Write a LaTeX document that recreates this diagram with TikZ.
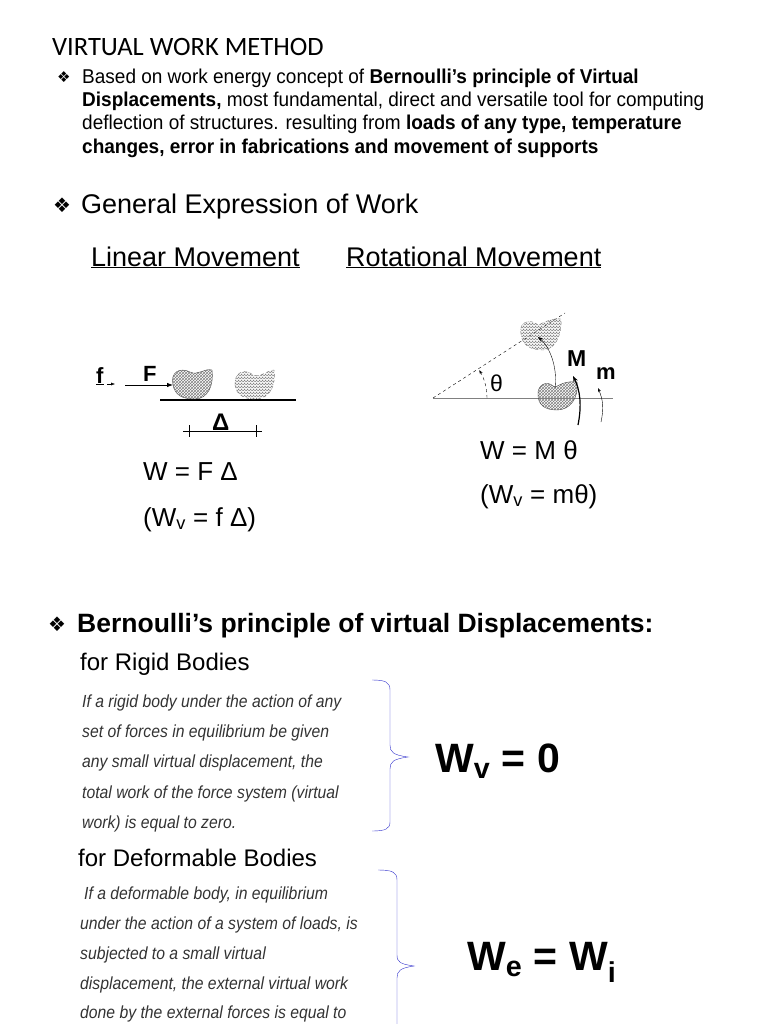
\documentclass[tikz,border=0pt]{standalone}
\usepackage{fontspec}
\setmainfont{Liberation Sans}
\newfontfamily\narrow[FakeStretch=0.95]{Liberation Sans}
\newfontfamily\narrowi[FakeStretch=0.9]{Liberation Sans}
\newfontfamily\calib{Carlito}
\newfontfamily\dv{DejaVu Sans}
\usetikzlibrary{patterns,arrows.meta}
\newcommand{\dia}{{\dv ❖}}
\begin{document}
\begin{tikzpicture}[x=1pt,y=-1pt,
  lbl/.style={anchor=base west,inner sep=0pt},
  bodyl/.style={lbl,font=\narrow\fontsize{20}{20}\selectfont},
  ital/.style={lbl,font=\narrowi\itshape\fontsize{17.5}{17.5}\selectfont,text=black!80},
  blob/.style={pattern=crosshatch,pattern color=gray,draw=black!70,thin},
  dblob/.style={blob,dashed,draw=gray},
  brc/.style={draw=blue!60!gray,thin}]
\useasboundingbox (0,0) rectangle (768,1024);
\node[lbl,font=\calib\fontsize{26.5}{26.5}\selectfont] (title) at (52,56) {VIRTUAL WORK METHOD};
\node[lbl,font=\fontsize{15}{15}\selectfont] (d1) at (57,83) {\dia};
\node[bodyl] (l1) at (82,84) {Based on work energy concept of \textbf{Bernoulli’s principle of Virtual}};
\node[bodyl] (l2) at (82,107) {\textbf{Displacements,} most fundamental, direct and versatile tool for computing};
\node[bodyl] (l3) at (82,130) {deflection of structures. resulting from \textbf{loads of any type, temperature}};
\node[bodyl] (l4) at (82,154) {\textbf{changes, error in fabrications and movement of supports}};
\node[lbl,font=\fontsize{20}{20}\selectfont] (gd) at (53,213) {\dia};
\node[lbl,font=\fontsize{27}{27}\selectfont] (gen) at (81,214) {General Expression of Work};
\node[lbl,font=\fontsize{27}{27}\selectfont] (lin) at (91,266) {\underline{Linear Movement}};
\node[lbl,font=\fontsize{27}{27}\selectfont] (rot) at (346,266) {\underline{Rotational Movement}};
% linear figure
\draw[line width=2.5pt] (160,400) -- (296,400);
\node[lbl,font=\bfseries\fontsize{22}{22}\selectfont] (f) at (96,383) {\underline{f}};
\coordinate (fa) at (107,384); \coordinate (fb) at (115,384);
\draw[-{Latex[length=4pt]}] (fa) -- (fb);
\node[lbl,font=\bfseries\fontsize{22}{22}\selectfont] (F) at (143,381) {F};
\coordinate (Fa) at (125,385); \coordinate (Fb) at (173,385);
\draw[thick,-{Latex[length=6pt]}] (Fa) -- (Fb);
\draw[blob] (173,385) .. controls (170,372) and (180,367) .. (190,372) .. controls (198,376) and (204,368) .. (212,370) .. controls (214,385) and (208,399) .. (195,399) .. controls (182,399) and (175,395) .. (173,385) -- cycle;
\draw[dblob] (235,385) .. controls (234,372) and (245,368) .. (253,375) .. controls (260,378) and (268,370) .. (274,370) .. controls (276,386) and (270,399) .. (255,399) .. controls (243,399) and (236,394) .. (235,385) -- cycle;
\node[lbl,font=\bfseries\fontsize{24}{24}\selectfont] (Dl) at (212,430) {Δ};
\coordinate (da) at (183,431); \coordinate (db) at (262,431);
\draw (da) -- (db); \draw (189,425) -- (189,437); \draw (256,425) -- (256,437);
\node[lbl,font=\fontsize{26}{26}\selectfont] (w1) at (143,480) {W = F Δ};
\node[lbl,font=\fontsize{26}{26}\selectfont] (w2) at (143,526) {(W\textsubscript{v} = f Δ)};
% rotational figure
\coordinate (O) at (433,398);
\draw[gray] (O) -- (613,398);
\draw[dashed] (O) -- (565,313);
\draw[dashed,-{Stealth[length=4pt]}] (487,398) arc[start angle=0,end angle=-31,radius=54];
\node[lbl,font=\fontsize{23}{23}\selectfont] (th) at (490,391) {θ};
\draw[dblob] (521,334) .. controls (518,322) and (530,318) .. (538,325) .. controls (545,322) and (552,318) .. (561,319) .. controls (562,335) and (555,350) .. (543,350) .. controls (530,350) and (522,345) .. (521,334) -- cycle;
\draw[blob] (538,395) .. controls (537,385) and (547,380) .. (553,386) .. controls (556,390) and (560,380) .. (577,382) .. controls (579,398) and (570,410) .. (557,410) .. controls (544,410) and (538,404) .. (538,395) -- cycle;
\coordinate (ca) at (555,388); \coordinate (cb) at (538,337);
\draw[-{Stealth[length=5pt]}] (ca) .. controls (558,365) and (548,345) .. (cb);
\node[lbl,font=\bfseries\fontsize{23}{23}\selectfont] (M) at (567,366) {M};
\draw[line width=1.2pt,-{Stealth[length=6pt]}] (578,425) .. controls (582,405) and (580,390) .. (573,376);
\node[lbl,font=\bfseries\fontsize{22}{22}\selectfont] (m) at (596,379) {m};
\draw[-{Stealth[length=4pt]}] (601,422) .. controls (604,408) and (603,400) .. (598,388);
\node[lbl,font=\fontsize{26}{26}\selectfont] (w3) at (480,459) {W = M θ};
\node[lbl,font=\fontsize{26}{26}\selectfont] (w4) at (480,503) {(W\textsubscript{v} = mθ)};
% Bernoulli
\node[lbl,font=\fontsize{20}{20}\selectfont] (bd) at (48,631) {\dia};
\node[lbl,font=\bfseries\fontsize{26.5}{26.5}\selectfont] (bern) at (77,632) {Bernoulli’s principle of virtual Displacements:};
\node[lbl,font=\fontsize{24}{24}\selectfont] (rig) at (80,670) {for Rigid Bodies};
\node[ital] at (82,707) {If a rigid body under the action of any};
\node[ital] at (82,737) {set of forces in equilibrium be given};
\node[ital] at (82,767) {any small virtual displacement, the};
\node[ital] at (82,798) {total work of the force system (virtual};
\node[ital] at (82,828) {work) is equal to zero.};
\draw[brc] (372,680) .. controls (385,680) and (390,682) .. (390,690) -- (390,745) .. controls (390,752) and (393,755) .. (408,757) .. controls (393,759) and (390,762) .. (390,769) -- (390,822) .. controls (390,829) and (385,831) .. (372,831);
\node[lbl,font=\bfseries\fontsize{41}{41}\selectfont] (wv) at (435,772) {W\textsubscript{v} = 0};
\node[lbl,font=\fontsize{24}{24}\selectfont] (def) at (78,866) {for Deformable Bodies};
\node[ital] at (84,899) {If a deformable body, in equilibrium};
\node[ital] at (80,929) {under the action of a system of loads, is};
\node[ital] at (80,959) {subjected to a small virtual};
\node[ital] at (80,989) {displacement, the external virtual work};
\node[ital] at (80,1018) {done by the external forces is equal to};
\draw[brc] (378,870) .. controls (392,870) and (397,872) .. (397,880) -- (397,955) .. controls (397,962) and (400,964) .. (414,966) .. controls (400,968) and (397,971) .. (397,978) -- (397,1030);
\node[lbl,font=\bfseries\fontsize{41}{41}\selectfont] (we) at (467,970) {W\textsubscript{e} = W\textsubscript{i}};
\end{tikzpicture}
\end{document}
